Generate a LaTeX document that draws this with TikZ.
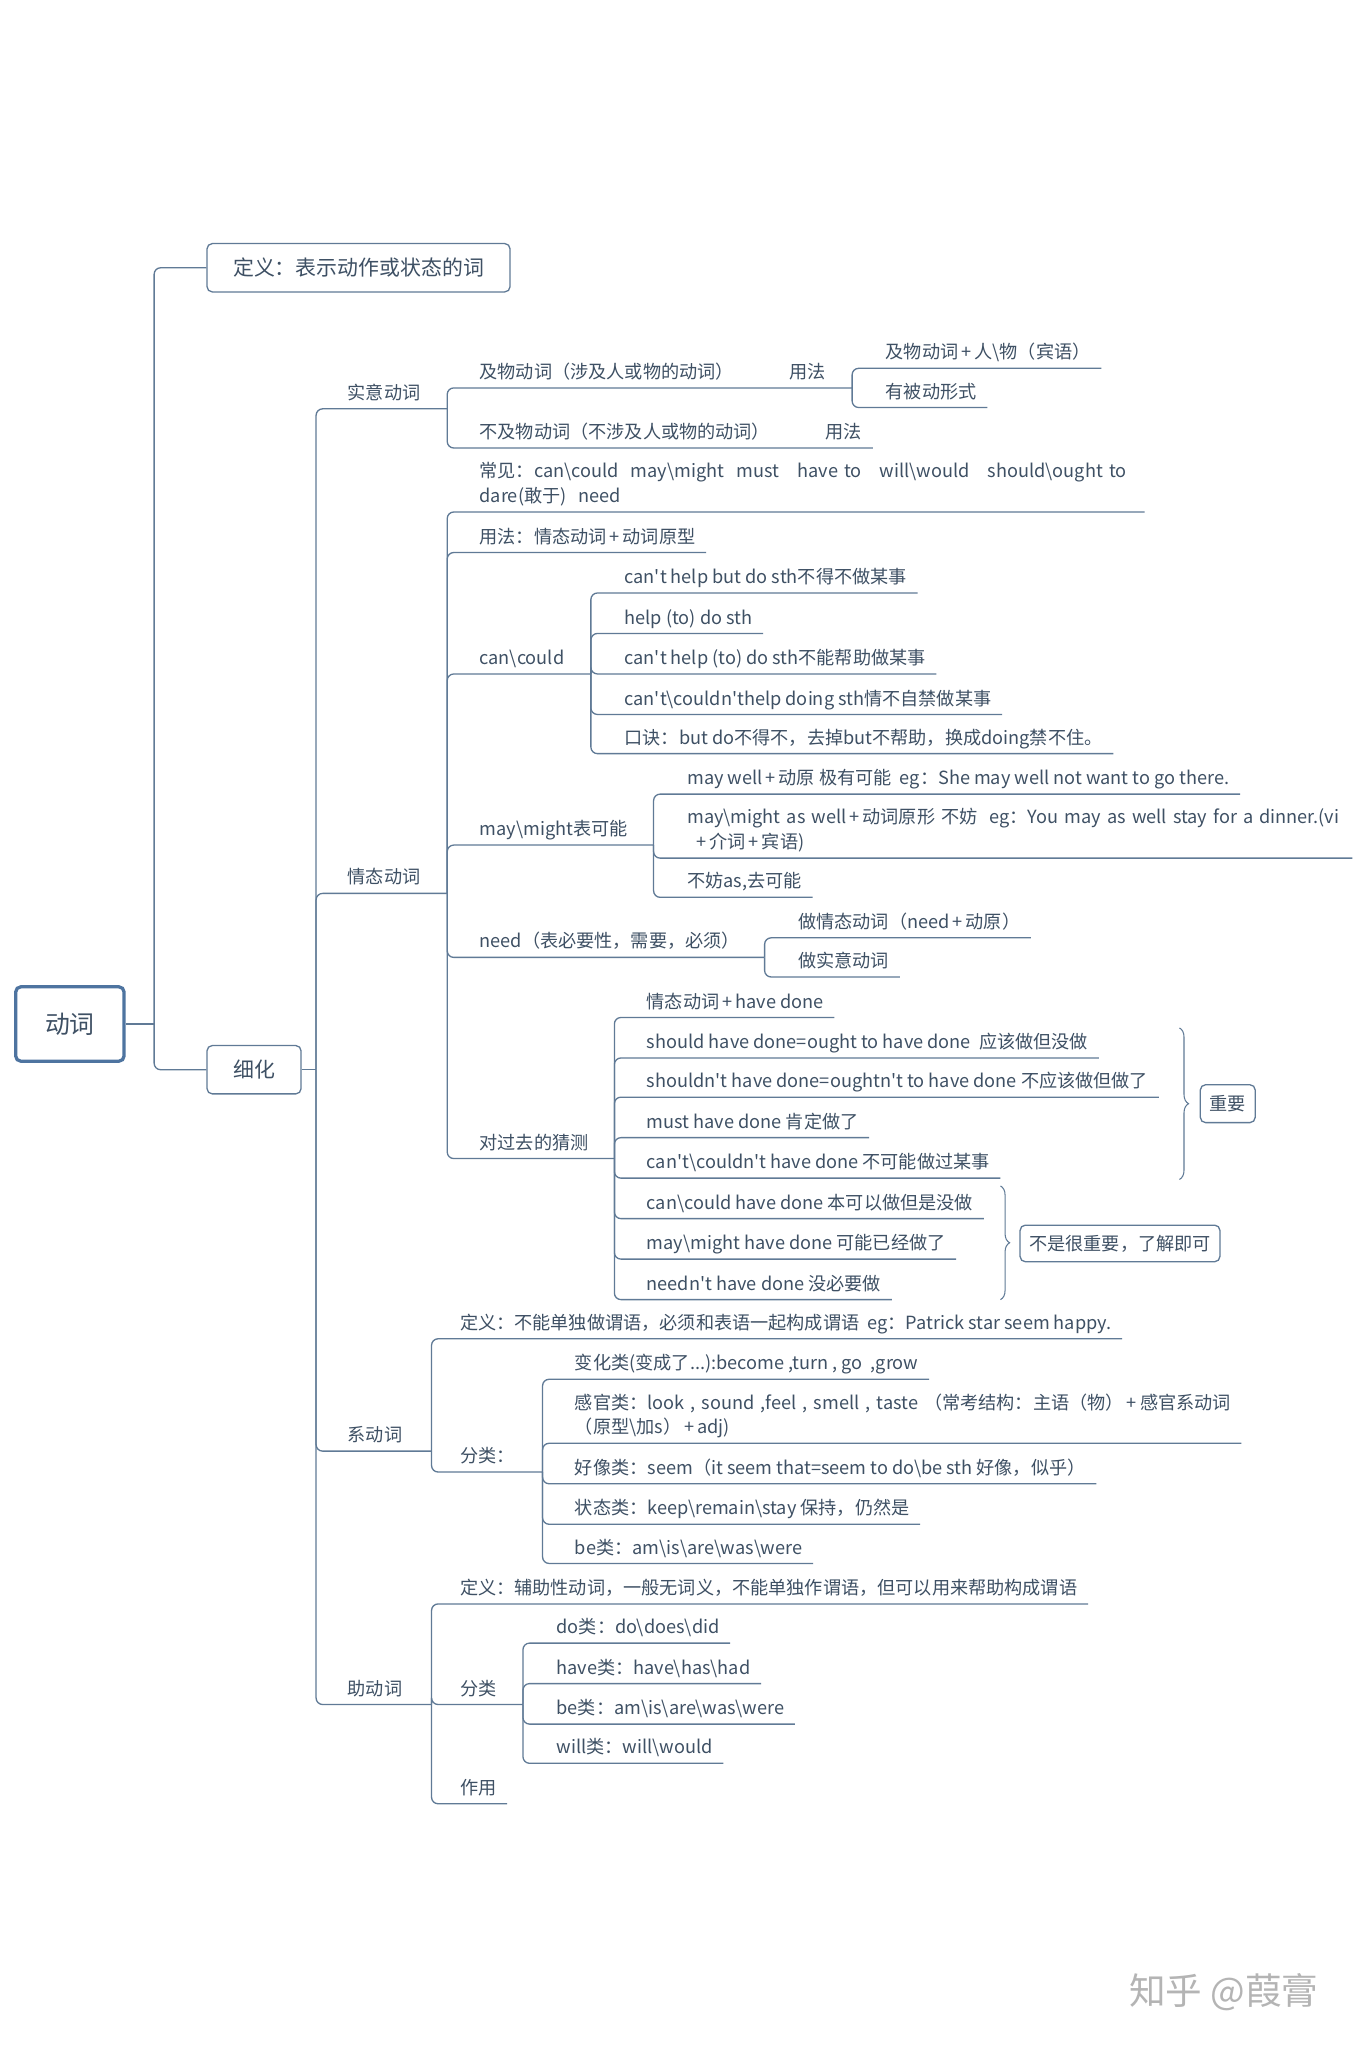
\documentclass[tikz,border=0pt]{standalone}
\usepackage{fontspec}
\newfontfamily\cjkf{Noto Sans CJK SC}
\usepackage{tikz}
\usetikzlibrary{decorations.pathreplacing}
\definecolor{lnc}{RGB}{96,122,150}
\definecolor{txc}{RGB}{62,80,100}
\definecolor{rootc}{RGB}{78,116,160}
\definecolor{wmc}{RGB}{180,180,180}
\newcommand{\bksl}{\textbackslash}
\newcommand{\pl}{\,+\,}

\begin{document}
\begin{tikzpicture}[x=1pt,y=-1pt,
  ln/.style={draw=lnc, line width=1pt, rounded corners=5pt},
  tp/.style={anchor=south west, inner xsep=8pt, inner ysep=3pt, text depth=4pt, text=txc, font=\cjkf\fontsize{13.9}{19}\selectfont},
  tp2/.style={tp, text width=#1, align=left, text depth=23pt},
  bx/.style={draw=lnc, line width=1pt, rounded corners=4pt, text=txc, inner sep=0pt},
  brc/.style={draw=lnc, line width=0.8pt, decorate, decoration={brace, amplitude=7pt}}]
\fill[white] (0,0) rectangle (1045,1568);
\useasboundingbox (0,0) rectangle (1045,1568);
% root
\node[bx, draw=rootc, line width=2.5pt, minimum width=83pt, minimum height=57pt, font=\cjkf\fontsize{19}{19}\selectfont] (dc) at (53.5,784) {动词};
\node[bx, anchor=west, minimum width=232pt, minimum height=37pt, font=\cjkf\fontsize{16}{16}\selectfont] (dy) at (158,205) {定义：表示动作或状态的词};
\node[bx, anchor=west, minimum width=72pt, minimum height=37pt, font=\cjkf\fontsize{16}{16}\selectfont] (xh) at (158,819) {细化};
\coordinate (jr) at (118,784);
\draw[ln] (dc.east) -- (jr);
\draw[ln] (jr) |- (dy.west);
\draw[ln] (jr) |- (xh.west);
% trunk
\coordinate (jx) at (242,819);
\draw[ln] (xh.east) -- (jx);
\node[tp, text width=68pt] (sy) at (258,313) {实意动词};
\node[tp, text width=68pt] (qt) at (258,684) {情态动词};
\node[tp, text width=56pt] (xd) at (258,1111) {系动词};
\node[tp, text width=56pt] (zd) at (258,1305) {助动词};
\foreach \n in {sy,qt,xd,zd} \draw[ln] (jx) |- (\n.south east);
% shiyi dongci
\node[tp] (jw) at (359,297) {及物动词（涉及人或物的动词）};
\node[tp, text width=40pt] (jwyf) at (596,297) {用法};
\node[tp] (bjw) at (359,343) {不及物动词（不涉及人或物的动词）};
\node[tp] (bjwyf) at (624,343) {用法};
\draw[ln] (sy.south east) |- (jw.south east) -- (jwyf.south east);
\draw[ln] (sy.south east) |- (bjw.south east) -- (bjwyf.south east);
\node[tp] (jw1) at (670,282) {及物动词\pl 人\bksl 物（宾语）};
\node[tp] (jw2) at (670,312) {有被动形式};
\foreach \n in {jw1,jw2} \draw[ln] (jwyf.south east) |- (\n.south east);
% qingtai dongci
\node[tp2=501pt] (cj) at (359,392) {\mbox{常见：can\bksl could~~may\bksl might~~must~~~have to~~~will\bksl would~~~should\bksl ought to}\\dare(敢于)~~need};
\node[tp] (yf) at (359,423) {用法：情态动词\pl 动词原型};
\node[tp, text width=77pt] (cc) at (359,516) {can\bksl could};
\node[tp, text width=125pt] (mm) at (359,647) {may\bksl might表可能};
\node[tp, text width=210pt] (nd) at (359,733) {need（表必要性，需要，必须）};
\node[tp, text width=95pt] (gc) at (359,887) {对过去的猜测};
\foreach \n in {cj,yf,cc,mm,nd,gc} \draw[ln] (qt.south east) |- (\n.south east);
\foreach \i/\y/\t in {1/454/{can't help but do sth不得不做某事}, 2/485/{help (to) do sth},
    3/516/{can't help (to) do sth不能帮助做某事}, 4/547/{can't\bksl couldn'thelp doing sth情不自禁做某事},
    5/577/{口诀：but do不得不，去掉but不帮助，换成doing禁不住。}}{
  \node[tp] (cc\i) at (470,\y) {\t};
  \draw[ln] (cc.south east) |- (cc\i.south east);
}
\node[tp] (mm1) at (518,608) {may well\pl 动原 极有可能~~eg：She may well not want to go there.};
\node[tp2=501pt] (mm2) at (518,657) {\mbox{may\bksl might as well\pl 动词原形 不妨~~eg：You may as well stay for a dinner.(vi}\\~\pl 介词\pl 宾语)};
\node[tp] (mm3) at (518,687) {不妨as,去可能};
\foreach \n in {mm1,mm2,mm3} \draw[ln] (mm.south east) |- (\n.south east);
\node[tp] (nd1) at (603,718) {做情态动词（need\pl 动原）};
\node[tp] (nd2) at (603,748) {做实意动词};
\foreach \n in {nd1,nd2} \draw[ln] (nd.south east) |- (\n.south east);
\foreach \i/\y/\t in {1/779/{情态动词\pl have done}, 2/810/{should have done=ought to have done~~应该做但没做},
    3/840/{shouldn't have done=oughtn't to have done 不应该做但做了}, 4/871/{must have done 肯定做了},
    5/902/{can't\bksl couldn't have done 不可能做过某事}, 6/933/{can\bksl could have done 本可以做但是没做},
    7/964/{may\bksl might have done 可能已经做了}, 8/995/{needn't have done 没必要做}}{
  \node[tp] (gc\i) at (487,\y) {\t};
  \draw[ln] (gc.south east) |- (gc\i.south east);
}
% summaries
\coordinate (zy1) at (903,787);
\coordinate (zy2) at (903,903);
\draw[brc] (zy1) -- (zy2);
\node[bx, minimum width=42pt, minimum height=29pt, font=\cjkf\fontsize{13.9}{13.9}\selectfont] (zy) at (940,845) {重要};
\coordinate (bz1) at (766,908);
\coordinate (bz2) at (766,995);
\draw[brc] (bz1) -- (bz2);
\node[bx, minimum width=153pt, minimum height=28pt, font=\cjkf\fontsize{13.9}{13.9}\selectfont] (bz) at (857.5,952) {不是很重要，了解即可};
% xi dongci
\node[tp] (xd1) at (344,1025) {定义：不能单独做谓语，必须和表语一起构成谓语~~eg：Patrick star seem happy.};
\node[tp, text width=55pt] (xdf) at (344,1127) {分类：};
\foreach \n in {xd1,xdf} \draw[ln] (xd.south east) |- (\n.south east);
\node[tp] (xf1) at (432,1056) {变化类(变成了...):become ,turn , go~~,grow};
\node[tp2=502pt] (xf2) at (432,1105) {\mbox{感官类：look , sound ,feel , smell , taste （常考结构：主语（物）\pl 感官系动词}\\（原型\bksl 加s）\pl adj)};
\node[tp] (xf3) at (432,1136) {好像类：seem（it seem that=seem to do\bksl be sth 好像，似乎）};
\node[tp] (xf4) at (432,1167) {状态类：keep\bksl remain\bksl stay 保持，仍然是};
\node[tp] (xf5) at (432,1197) {be类：am\bksl is\bksl are\bksl was\bksl were};
\foreach \n in {xf1,xf2,xf3,xf4,xf5} \draw[ln] (xdf.south east) |- (\n.south east);
% zhu dongci
\node[tp] (zd1) at (344,1228) {定义：辅助性动词，一般无词义，不能单独作谓语，但可以用来帮助构成谓语};
\node[tp, text width=40pt] (zdf) at (344,1305) {分类};
\node[tp] (zd3) at (344,1381) {作用};
\foreach \n in {zd1,zdf,zd3} \draw[ln] (zd.south east) |- (\n.south east);
\foreach \i/\y/\t in {1/1258/{do类：do\bksl does\bksl did}, 2/1289/{have类：have\bksl has\bksl had},
    3/1320/{be类：am\bksl is\bksl are\bksl was\bksl were}, 4/1350/{will类：will\bksl would}}{
  \node[tp] (zf\i) at (418,\y) {\t};
  \draw[ln] (zdf.south east) |- (zf\i.south east);
}
% watermark
\node[text=wmc, font=\cjkf\fontsize{28}{28}\selectfont] (zh) at (937,1525) {知乎 @葭膏};
\end{tikzpicture}
\end{document}
